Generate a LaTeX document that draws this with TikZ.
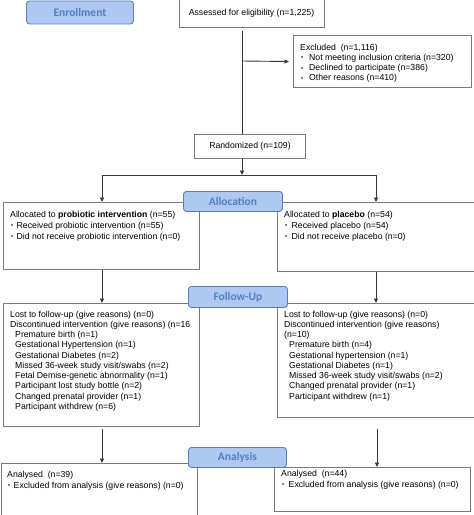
\documentclass[tikz,border=0pt]{standalone}
\usepackage{fontspec}
\setmainfont{Liberation Sans}
\newfontfamily\labfont{Carlito}
\usetikzlibrary{arrows.meta}
\definecolor{labfill}{HTML}{AFC8F2}
\definecolor{labdraw}{HTML}{5B7DB3}
\definecolor{labtext}{HTML}{4F81BD}
\definecolor{boxline}{HTML}{7A7A7A}
\definecolor{connline}{HTML}{383838}
\newcommand{\bul}[1]{\hspace*{1pt}\makebox[#1][l]{\raisebox{0.5pt}{\scalebox{0.7}{•}}}}
\begin{document}
\begin{tikzpicture}[x=1pt,y=-1pt,
  box/.style={draw=boxline,line width=1pt,fill=white,inner sep=0pt,anchor=north west},
  lab/.style={draw=labdraw,line width=0.9pt,fill=labfill,rounded corners=3pt,inner sep=0pt,anchor=north west,
    font=\labfont\bfseries\fontsize{11.5}{13}\selectfont,text=labtext},
  txt/.style={inner sep=0pt,anchor=north west,align=left,font=\fontsize{8.7}{10.25}\selectfont},
  ctxt/.style={inner sep=0pt,font=\fontsize{8.7}{10.25}\selectfont},
  conn/.style={draw=connline,line width=0.9pt},
  arr/.style={conn,-{Triangle[length=4.5pt,width=4pt]}}]
\useasboundingbox (0,0) rectangle (474,515);
\clip (0,0) rectangle (474,515);
\fill[white] (0,0) rectangle (474,515);

% boxes
\node[box,minimum width=145pt,minimum height=31pt] (assess) at (179,-4) {};
\node[ctxt] (assesst) at (251.5,13) {Assessed for eligibility (n=1,225)};
\node[box,minimum width=178pt,minimum height=52pt] (excl) at (293,35) {};
\node[txt] (exclt) at (300,43.7) {Excluded\ \ (n=1,116)\\
\bul{8pt}Not meeting inclusion criteria (n=320)\\
\bul{8pt}Declined to participate (n=386)\\
\bul{8pt}Other reasons (n=410)};
\node[box,minimum width=111pt,minimum height=24pt] (rand) at (194,134) {};
\node[ctxt] (randt) at (rand.center) {Randomized (n=109)};

\node[box,minimum width=196pt,minimum height=67pt] (allocL) at (3,202) {};
\node[txt,font=\fontsize{8.7}{11}\selectfont] (allocLt) at (10,210.7) {Allocated to \textbf{probiotic intervention} (n=55)\\
\bul{5.5pt}Received probiotic intervention (n=55)\\
\bul{5.5pt}Did not receive probiotic intervention (n=0)};
\node[box,minimum width=210pt,minimum height=69pt] (allocR) at (277,202) {};
\node[txt,font=\fontsize{8.7}{11}\selectfont] (allocRt) at (284,210.7) {Allocated to \textbf{placebo} (n=54)\\
\bul{6.5pt}Received placebo (n=54)\\
\bul{6.5pt}Did not receive placebo (n=0)};

\node[box,minimum width=196pt,minimum height=123pt] (followL) at (3,303) {};
\node[txt] (followLt) at (10,310.7) {Lost to follow-up (give reasons) (n=0)\\
Discontinued intervention (give reasons) (n=16\\
\hspace*{5pt}Premature birth (n=1)\\
\hspace*{5pt}Gestational Hypertension (n=1)\\
\hspace*{5pt}Gestational Diabetes (n=2)\\
\hspace*{5pt}Missed 36-week study visit/swabs (n=2)\\
\hspace*{5pt}Fetal Demise-genetic abnormality (n=1)\\
\hspace*{5pt}Participant lost study bottle (n=2)\\
\hspace*{5pt}Changed prenatal provider (n=1)\\
\hspace*{5pt}Participant withdrew (n=6)};
\node[box,minimum width=210pt,minimum height=114pt] (followR) at (277,303) {};
\node[txt] (followRt) at (284,310.7) {Lost to follow-up (give reasons) (n=0)\\
Discontinued intervention (give reasons)\\
(n=10)\\
\hspace*{5pt}Premature birth (n=4)\\
\hspace*{5pt}Gestational hypertension (n=1)\\
\hspace*{5pt}Gestational Diabetes (n=1)\\
\hspace*{5pt}Missed 36-week study visit/swabs (n=2)\\
\hspace*{5pt}Changed prenatal provider (n=1)\\
\hspace*{5pt}Participant withdrew (n=1)};

\node[box,minimum width=196pt,minimum height=70pt] (anaL) at (1,463) {};
\node[txt,font=\fontsize{8.7}{11}\selectfont] (anaLt) at (7,470.7) {Analysed\ \ (n=39)\\
\bul{5.5pt}Excluded from analysis (give reasons) (n=0)};
\node[box,minimum width=196pt,minimum height=44pt] (anaR) at (274,467) {};
\node[txt,font=\fontsize{8.7}{11}\selectfont] (anaRt) at (281,469.7) {Analysed\ \ (n=44)\\
\bul{6.5pt}Excluded from analysis (give reasons) (n=0)};

% connectors
\coordinate (c0) at (242,31);
\coordinate (c1) at (242,61);
\coordinate (split) at (242,175);
\coordinate (sl) at (102,175);
\coordinate (sr) at (376,175);
\coordinate (al) at (102,429);
\coordinate (ar) at (377,429);
\draw[conn] (c0) -- (c0 |- rand.north);
\draw[arr] (c1) -- ([xshift=-4pt]excl.west);
\draw[arr] (c0 |- rand.south) -- (split);
\draw[conn] (sl) -- (sr);
\draw[arr] (sl) -- (sl |- allocL.north);
\draw[arr] (sr) -- (sr |- allocR.north);
\draw[arr] (sl |- allocL.south) -- (sl |- followL.north);
\draw[arr] (sr |- allocR.south) -- (sr |- followR.north);
\draw[arr] (al) -- (al |- anaL.north);
\draw[arr] (ar) -- (ar |- anaR.north);

% stage labels
\node[lab,minimum width=107pt,minimum height=23pt] (enr) at (26,0.5) {Enrollment};
\node[lab,minimum width=99pt,minimum height=20pt] (alloc) at (183,191) {Allocation};
\node[lab,minimum width=99pt,minimum height=21pt] (fup) at (188,286) {Follow-Up};
\node[lab,minimum width=98pt,minimum height=20pt] (ana) at (188,447) {Analysis};
\end{tikzpicture}
\end{document}
